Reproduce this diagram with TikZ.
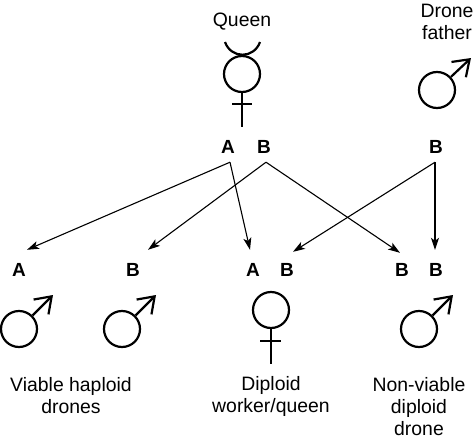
\documentclass[tikz,border=0pt]{standalone}
\usepackage{fontspec}
\setmainfont{Liberation Sans}
\usetikzlibrary{positioning,arrows.meta}

\begin{document}
\begin{tikzpicture}[x=1pt,y=-1pt]
\useasboundingbox (0,0) rectangle (474,439);

% 1. Koordinaten definieren
\coordinate (qcross1) at (232,104);
\coordinate (qcross2) at (252,104);
\coordinate (qend) at (242,127);
\coordinate (qhorn1) at (225,42);
\coordinate (qhorn2) at (260,42);
\coordinate (ccross1) at (260,341);
\coordinate (ccross2) at (281,341);
\coordinate (cend) at (271,364);

\coordinate (ftip) at (471,58);
\coordinate (d1tip) at (53,295);
\coordinate (d2tip) at (156,295);
\coordinate (d3tip) at (453,295);

% 2. Stile definieren
\tikzset{
  caption/.style={
    align=center,
    inner sep=0pt,
    font=\fontsize{19.4}{22}\selectfont
  },
  top gene/.style={
    inner sep=0pt,
    minimum height=30pt,
    font=\fontsize{19}{20}\selectfont\bfseries
  },
  low gene/.style={
    inner sep=0pt,
    minimum height=40pt,
    font=\fontsize{19}{20}\selectfont\bfseries
  },
  sex ring/.style={
    draw,
    circle,
    line width=2.2pt,
    inner sep=0pt,
    minimum size=36pt
  },
  sex line/.style={
    line width=2.2pt
  },
  male line/.style={
    line width=2.2pt,
    -{Straight Barb[length=15pt,width=21pt,line width=2.2pt]}
  },
  gene arrow/.style={
    line width=1.1pt,
    -{Stealth[length=12pt,width=8pt,inset=3pt]}
  }
}

% 3. Texte
\node [caption] (queen) at (242,22) {Queen};
\node [caption] (father) at (447,22) {Drone\\father};
\node [caption] (haploid) at (71,396) {Viable haploid\\drones};
\node [caption] (diploid) at (271,396) {Diploid\\worker/queen};
\node [caption] (nonviable) at (419,407) {Non-viable\\diploid\\drone};

% 4. Gene
\node [top gene] (qA) at (228,147) {A};
\node [top gene] (qB) at (264,147) {B};
\node [top gene] (fB) at (436,147) {B};
\node [low gene] (d1A) at (19,270) {A};
\node [low gene] (d2B) at (133,270) {B};
\node [low gene] (cA) at (253,270) {A};
\node [low gene] (cB) at (287,270) {B};
\node [low gene] (d3B1) at (402,270) {B};
\node [low gene] (d3B2) at (436,270) {B};

% 5. Symbole
\node [sex ring] (qsym) at (242,74) {};
\draw [sex line] (qsym) -- (qend);
\draw [sex line] (qcross1) -- (qcross2);
\draw [sex line] (qhorn1) .. controls (231,59) and (254,59) .. (qhorn2);

\node [sex ring] (csym) at (271,310) {};
\draw [sex line] (csym) -- (cend);
\draw [sex line] (ccross1) -- (ccross2);

\node [sex ring] (fsym) at (437,90) {};
\draw [male line] (fsym) -- (ftip);
\node [sex ring] (d1sym) at (19,329) {};
\draw [male line] (d1sym) -- (d1tip);
\node [sex ring] (d2sym) at (122,329) {};
\draw [male line] (d2sym) -- (d2tip);
\node [sex ring] (d3sym) at (419,329) {};
\draw [male line] (d3sym) -- (d3tip);

% 6. Pfeile
\draw [gene arrow] ([xshift=2pt]qA.south) -- ([xshift=8pt]d1A.north);
\draw [gene arrow] ([xshift=2pt]qA.south) -- ([xshift=-3pt]cA.north);
\draw [gene arrow] ([xshift=2pt]qB.south) -- ([xshift=15pt]d2B.north);
\draw [gene arrow] ([xshift=2pt]qB.south) -- ([xshift=-2pt,yshift=-3pt]d3B1.north);
\draw [gene arrow] ([xshift=-1pt]fB.south) -- ([xshift=6pt,yshift=-2pt]cB.north);
\draw [gene arrow] ([xshift=-1pt]fB.south) -- ([xshift=-1pt]d3B2.north);

\end{tikzpicture}
\end{document}
